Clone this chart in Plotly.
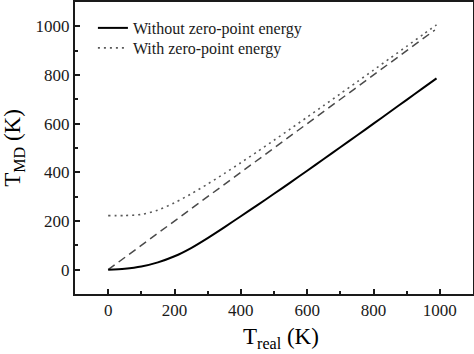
import plotly.graph_objects as go

t_real = [0, 50, 100, 150, 200, 250, 300, 350, 400, 450, 500, 550, 600, 650,
          700, 750, 800, 850, 900, 950, 990]
t_md_without = [0, 4, 13, 30, 55, 89, 130, 174, 219.6, 265.2, 311.8,
                359, 406.7, 454.7, 502.9, 551.4, 600, 648.9, 697.9, 746.9, 786.3]
t_md_with = [222, 222.5, 227, 245, 274.8, 311.5, 351.9, 395, 439.6, 485.2,
             531.8, 579, 626.7, 674.7, 722.9, 771.4, 820, 868.9, 917.9, 966.9, 1006.3]
ref_x = [0, 985]
ref_y = [0, 985]

x_ticks = [0, 200, 400, 600, 800, 1000]
y_ticks = [0, 200, 400, 600, 800, 1000]

font_family = "Times New Roman, Liberation Serif, DejaVu Serif, serif"

fig = go.Figure()
fig.add_trace(go.Scatter(x=ref_x, y=ref_y, mode="lines", showlegend=False,
                         line=dict(color="#4a4a4a", width=1.5, dash="8px,5px")))
fig.add_trace(go.Scatter(x=t_real, y=t_md_without, mode="lines",
                         name="Without zero-point energy", legend="legend",
                         line=dict(color="black", width=2, shape="spline", smoothing=0.8)))
fig.add_trace(go.Scatter(x=t_real, y=t_md_with, mode="lines",
                         name="With zero-point energy", legend="legend2",
                         line=dict(color="#5a5a5a", width=1.6, dash="2px,4px", shape="spline", smoothing=0.8)))

axis_common = dict(
    showgrid=False, zeroline=False, showline=True, linecolor="#1a1a1a", linewidth=2,
    mirror=True, ticks="inside", ticklen=5, tickwidth=1.5, tickcolor="#1a1a1a",
    tickfont=dict(family=font_family, size=17, color="#1a1a1a"),
    minor=dict(ticks="inside", ticklen=3, tickwidth=1.5, tickcolor="#1a1a1a", dtick=100, showgrid=False),
    automargin=False,
)

fig.update_xaxes(range=[-100, 1100], tickvals=x_ticks, ticktext=[str(v) for v in x_ticks],
                 **axis_common)
fig.update_yaxes(range=[-100, 1100], tickvals=y_ticks, ticktext=[str(v) for v in y_ticks],
                 title=dict(text="T<sub>MD</sub> (K)", font=dict(family=font_family, size=23, color="black"), standoff=22),
                 **axis_common)

legend_common = dict(xanchor="left", yanchor="middle",
                     bgcolor="rgba(0,0,0,0)", borderwidth=0,
                     font=dict(family=font_family, size=16, color="#1a1a1a"))

fig.update_layout(
    width=474, height=354,
    margin=dict(l=75, r=1, t=2, b=60, autoexpand=False),
    paper_bgcolor="white", plot_bgcolor="white",
    font=dict(family=font_family, color="#1a1a1a"),
    showlegend=True,
    legend=dict(x=0.045, y=0.911, **legend_common),
    legend2=dict(x=0.045, y=0.8425, **legend_common),
    annotations=[dict(text="T<sub>real</sub> (K)", xref="paper", yref="paper",
                      x=0.5176, y=-0.15, xanchor="center", yanchor="middle",
                      showarrow=False,
                      font=dict(family=font_family, size=23, color="black"))],
)

fig.write_html("out.html")
